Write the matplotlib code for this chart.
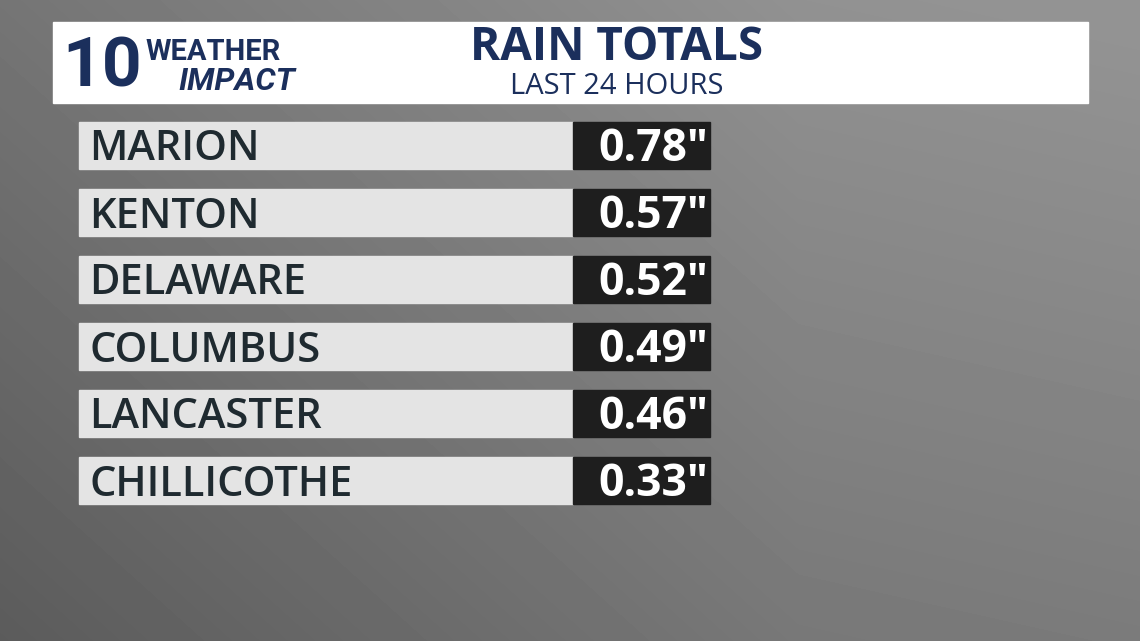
import numpy as np
import matplotlib
matplotlib.use("Agg")
import matplotlib.pyplot as plt
from matplotlib.patches import Rectangle

# ── Data ─────────────────────────────────────────────────────────────
cities = ["MARION", "KENTON", "DELAWARE", "COLUMBUS", "LANCASTER", "CHILLICOTHE"]
totals = [0.78, 0.57, 0.52, 0.49, 0.46, 0.33]
title = "RAIN TOTALS"
subtitle = "LAST 24 HOURS"

W, H = 1140, 641
fig = plt.figure(figsize=(W / 100, H / 100), dpi=100)
ax = fig.add_axes([0, 0, 1, 1])
ax.set_xlim(0, W); ax.set_ylim(H, 0); ax.axis("off")

# gray backdrop, lighter top-right
yy, xx = np.mgrid[0:H, 0:W]
bg = 0.50 + 0.10 * (xx / W) - 0.10 * (yy / H) - 0.06 * np.abs(xx / W - 0.7)
ax.imshow(bg, cmap="gray", vmin=0, vmax=1, extent=[0, W, H, 0], aspect="auto", zorder=0)

navy = "#1b2f5c"
# header
ax.add_patch(Rectangle((53, 22), 1035, 81, color="white", zorder=1))
ax.text(617, 48, title, ha="center", va="center", fontsize=33, fontweight="bold",
        color=navy, family="Open Sans", zorder=2)
ax.text(617, 86, subtitle, ha="center", va="center", fontsize=21,
        color=navy, family="Open Sans", zorder=2)
ax.text(62, 68, "10", ha="left", va="center", fontsize=50, fontweight="bold",
        color=navy, family="Roboto", zorder=2)
ax.text(146, 52, "WEATHER", ha="left", va="center", fontsize=21, fontweight="bold",
        color=navy, family="Roboto", zorder=2)
ax.text(178, 82, "IMPACT", ha="left", va="center", fontsize=23, fontweight="bold",
        style="italic", color=navy, family="Roboto", zorder=2)

# rows
top0, step, h = 122, 67, 47
for i, (c, v) in enumerate(zip(cities, totals)):
    y = top0 + i * step
    ax.add_patch(Rectangle((79, y), 494, h, color="#e4e4e4", zorder=1))
    ax.add_patch(Rectangle((573, y), 137, h, color="#1e1e1e", zorder=1))
    ax.text(89, y + h / 2 + 4, c, ha="left", va="center", fontsize=30,
            color="#1f2a30", family="Open Sans", fontweight="semibold", zorder=2)
    ax.text(708, y + h / 2 + 4, f'{v:.2f}"', ha="right", va="center", fontsize=32,
            color="white", family="Open Sans", fontweight="bold", zorder=2)

fig.savefig("out.png", dpi=100)
